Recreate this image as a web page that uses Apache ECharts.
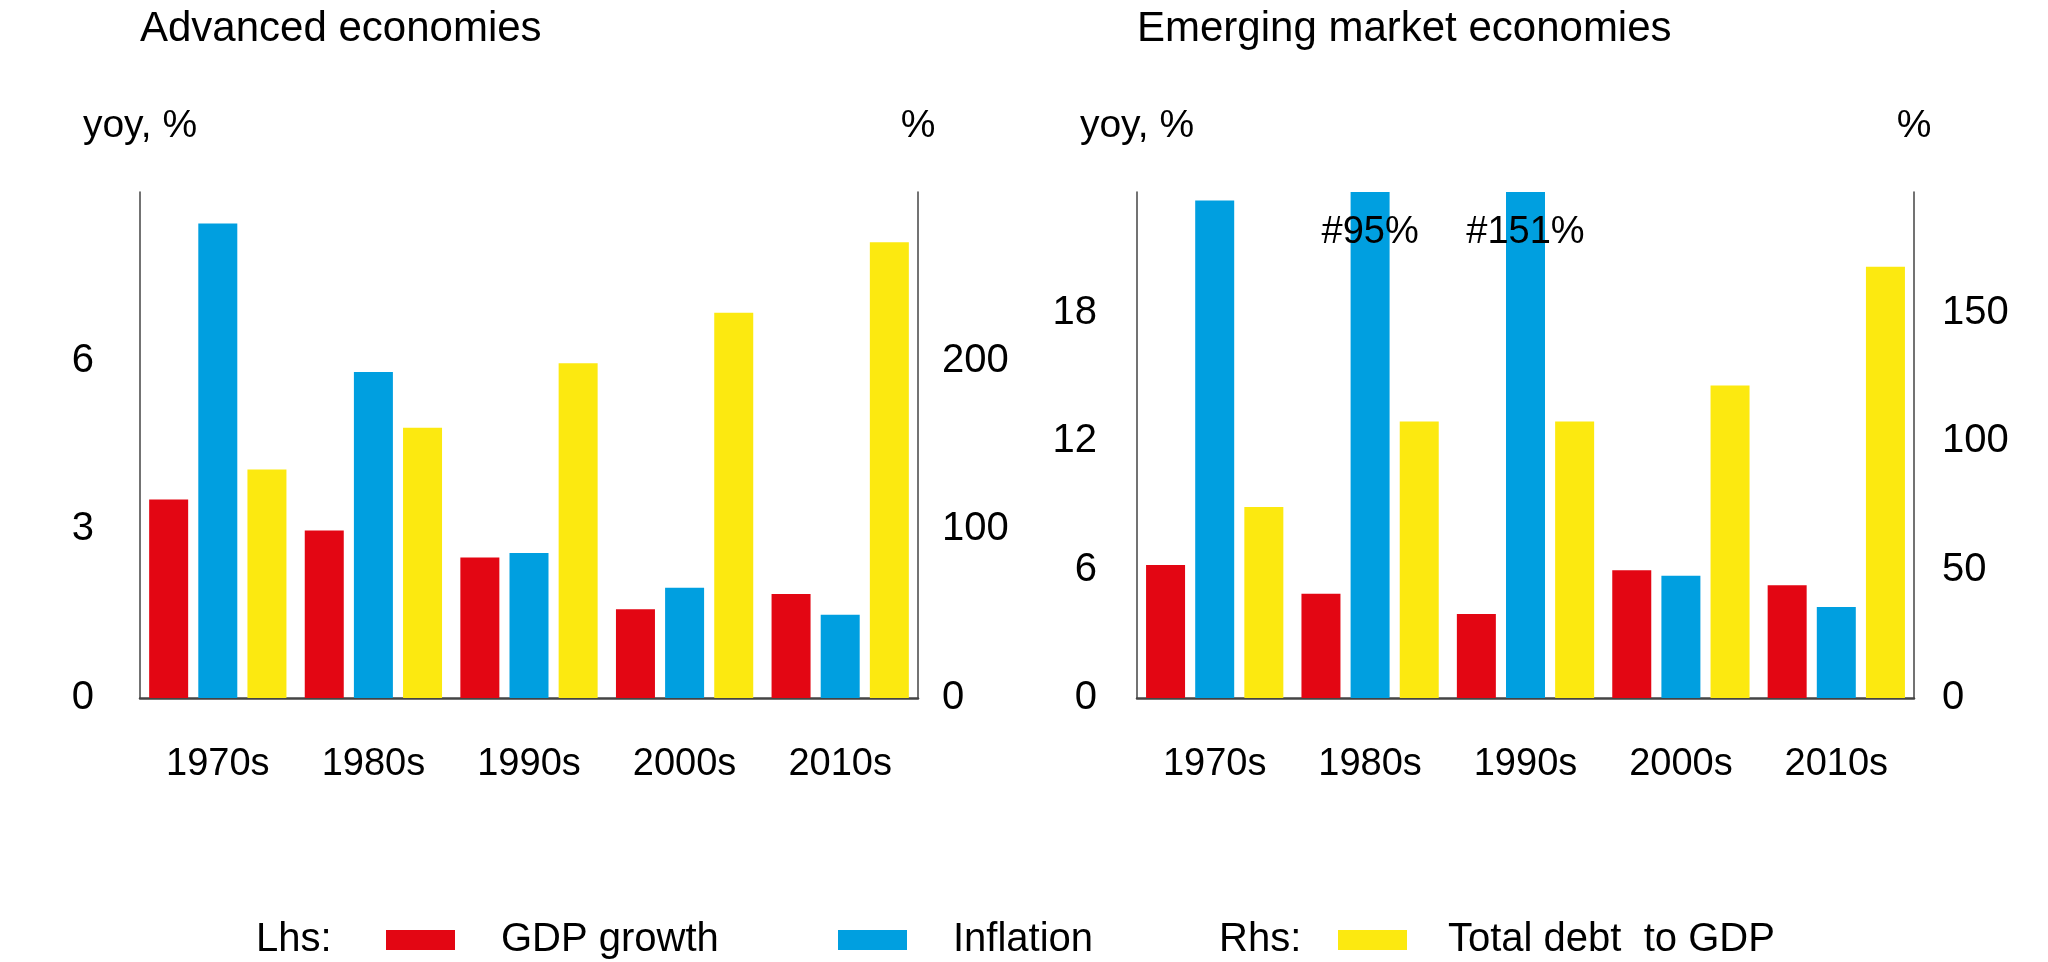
<!DOCTYPE html>
<html>
<head>
<meta charset="utf-8">
<script src="https://cdn.jsdelivr.net/npm/echarts@6/dist/echarts.min.js"></script>
<style>
  html, body { margin: 0; padding: 0; background: #fff; }
  #chart { width: 2048px; height: 962px; }
</style>
</head>
<body>
<div id="chart"></div>
<script>
// categories
var decades = ['1970s', '1980s', '1990s', '2000s', '2010s'];

// advanced economies
var aeGdp = [3.53, 2.98, 2.50, 1.58, 1.85];
var aeInflation = [8.44, 5.80, 2.58, 1.96, 1.48];
var aeDebt = [135.5, 160.2, 198.4, 228.4, 270.2];

// emerging market economies (inflation 1980s/1990s go off the scale)
var emeGdp = [6.22, 4.88, 3.93, 5.97, 5.27];
var emeInflation = [23.26, 95, 151, 5.72, 4.26];
var emeDebt = [74.4, 107.8, 107.8, 121.8, 168.1];

var RED = '#E30613', BLUE = '#009FE0', YELLOW = '#FCE910';
var FONT = "'Liberation Sans', Arial, sans-serif";
var axisColor = '#444';
var emeLhsMax = 23.66;

var myChart = echarts.init(document.getElementById('chart'));

function valueAxis(grid, pos, max, interval, margin, name) {
    return {
        type: 'value',
        gridIndex: grid,
        position: pos,
        min: 0,
        max: max,
        interval: interval,
        name: name,
        nameLocation: 'end',
        nameGap: 46,
        nameTextStyle: { color: '#000', fontSize: 39, fontFamily: FONT },
        splitLine: { show: false },
        axisTick: { show: false },
        axisLine: { show: true, lineStyle: { color: axisColor, width: 1.5 } },
        axisLabel: { color: '#000', fontSize: 40, fontFamily: FONT, margin: margin, showMaxLabel: false }
    };
}

function catAxis(grid) {
    return {
        type: 'category',
        gridIndex: grid,
        data: decades,
        axisTick: { show: false },
        axisLine: { lineStyle: { color: axisColor, width: 2.5 } },
        axisLabel: { color: '#000', fontSize: 38, fontFamily: FONT, margin: 48 }
    };
}

function bar(name, data, x, y, color, extra) {
    var s = {
        name: name,
        type: 'bar',
        xAxisIndex: x,
        yAxisIndex: y,
        data: data,
        barWidth: 39,
        barGap: '26%',
        clip: true,
        itemStyle: { color: color }
    };
    return Object.assign(s, extra || {});
}

function legendItem(name, left, pad) {
    return {
        data: [name],
        left: left,
        top: 920,
        padding: 0,
        icon: 'rect',
        itemWidth: 69,
        itemHeight: 20,
        selectedMode: false,
        textStyle: { color: '#000', fontSize: 40, fontFamily: FONT, lineHeight: 40, padding: [0, 0, 0, pad] }
    };
}

myChart.setOption({
    animation: false,
    textStyle: { fontFamily: FONT },
    title: [
        { text: 'Advanced economies', left: 140, top: 8, padding: 0,
          textStyle: { fontSize: 42, fontWeight: 'normal', color: '#000', fontFamily: FONT } },
        { text: 'Emerging market economies', left: 1137, top: 8, padding: 0,
          textStyle: { fontSize: 42, fontWeight: 'normal', color: '#000', fontFamily: FONT } }
    ],
    legend: [
        legendItem('GDP growth', 386, 41),
        legendItem('Inflation', 838, 41),
        legendItem('Total debt  to GDP', 1338, 36)
    ],
    graphic: [
        { type: 'text', left: 256, top: 920, style: { text: 'Lhs:', fontSize: 40, fontFamily: FONT, fill: '#000', lineHeight: 40 } },
        { type: 'text', left: 1219, top: 920, style: { text: 'Rhs:', fontSize: 40, fontFamily: FONT, fill: '#000', lineHeight: 40 } }
    ],
    grid: [
        { left: 140, top: 192, width: 778, height: 506 },
        { left: 1137, top: 192, width: 777, height: 506 }
    ],
    xAxis: [catAxis(0), catAxis(1)],
    yAxis: [
        valueAxis(0, 'left', 9, 3, 46, 'yoy, %'),
        valueAxis(0, 'right', 300, 100, 24, '%'),
        valueAxis(1, 'left', emeLhsMax, 6, 40, 'yoy, %'),
        valueAxis(1, 'right', 197.2, 50, 28, '%')
    ],
    series: [
        bar('GDP growth', aeGdp, 0, 0, RED),
        bar('Inflation', aeInflation, 0, 0, BLUE),
        bar('Total debt  to GDP', aeDebt, 0, 1, YELLOW),
        bar('GDP growth', emeGdp, 1, 2, RED),
        bar('Inflation', emeInflation, 1, 2, BLUE, {
            label: {
                show: true,
                position: 'insideTop',
                distance: 22,
                color: '#000',
                fontSize: 38,
                fontFamily: FONT,
                formatter: function (p) {
                    return p.value > emeLhsMax ? '#' + p.value + '%' : '';
                }
            }
        }),
        bar('Total debt  to GDP', emeDebt, 1, 3, YELLOW)
    ]
});
</script>
</body>
</html>
